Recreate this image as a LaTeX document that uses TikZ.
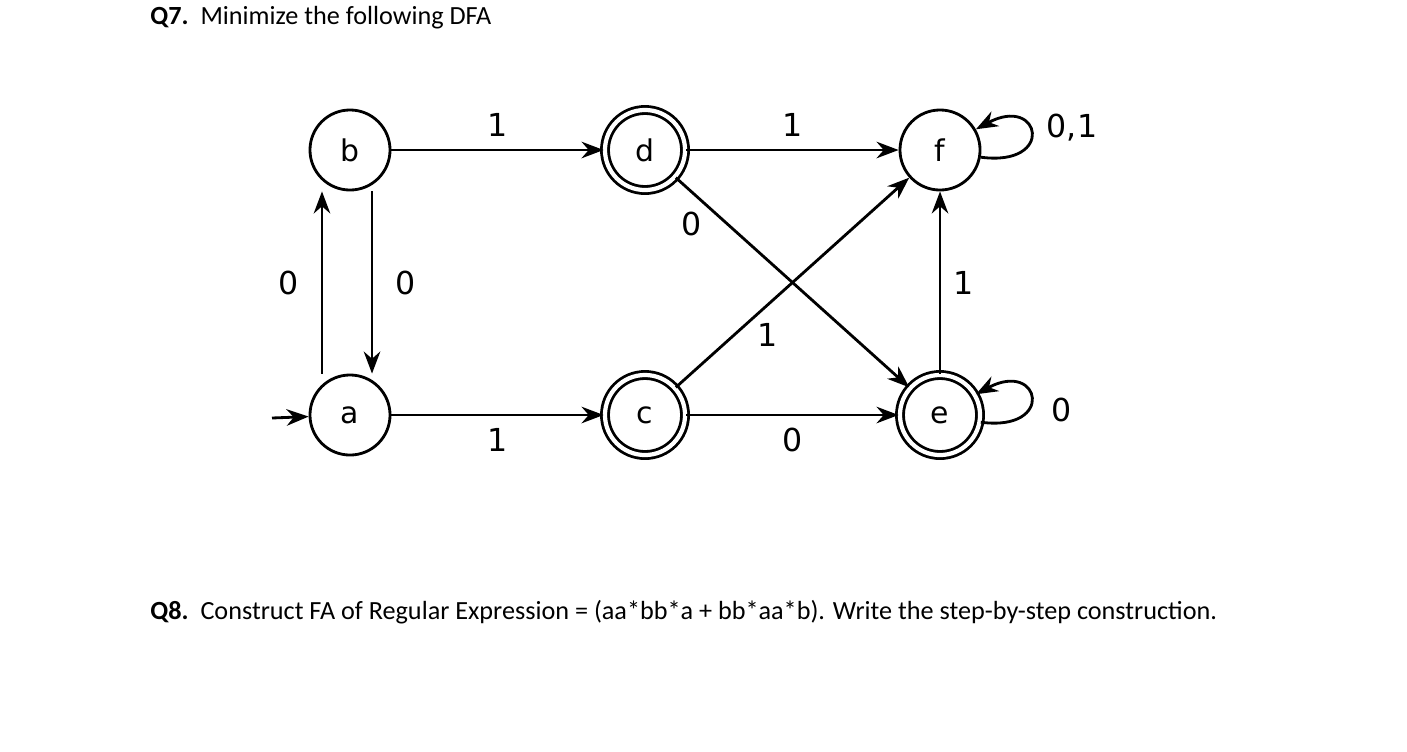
\documentclass[tikz,border=0pt]{standalone}
\usepackage{fontspec}
\setmainfont{DejaVu Sans}
\newfontfamily\qfont{Carlito}
\usetikzlibrary{arrows.meta}
\begin{document}
\begin{tikzpicture}[x=0.01cm,y=-0.01cm,
	state/.style={circle, draw, thick, minimum size=0.8cm, inner sep=0pt, font=\fontsize{8.5}{9}\selectfont},
	accept/.style={state, double, double distance=1.2pt},
	lbl/.style={font=\fontsize{9}{10}\selectfont},
	q/.style={anchor=west, font=\qfont\fontsize{7.45}{8.5}\selectfont},
	>={Stealth[length=2.2mm]}]
	\useasboundingbox (0,0) rectangle (1407,751);
	\node[q] (q7) at (138,18) {\textbf{Q7.}\ \ Minimize the following DFA};
	\node[q] (q8) at (138,612) {\textbf{Q8.}\ \ Construct FA of Regular Expression = (aa*bb*a + bb*aa*b). Write the step-by-step construction.};
	% states
	\node[state] (b) at (350,150) {b};
	\node[accept] (d) at (645,150) {d};
	\node[state] (f) at (940,150) {f};
	\node[state] (a) at (350,415) {a};
	\node[accept] (c) at (645,415) {c};
	\node[accept] (e) at (940,415) {e};
	\coordinate (start) at (272,418);
	% transitions
	\draw[->, thick] (start) -- (a);
	\draw[->, thick] ([xshift=-0.28cm]a.north) -- node[lbl, left=0.1cm] {0} ([xshift=-0.28cm]b.south);
	\draw[->, thick] ([xshift=0.22cm]b.south) -- node[lbl, right=0.1cm] {0} ([xshift=0.22cm]a.north);
	\draw[->, thick] (b) -- node[lbl, above] {1} (d);
	\draw[->, thick] (d) -- node[lbl, above] {1} (f);
	\draw[->, thick] (a) -- node[lbl, below] {1} (c);
	\draw[->, thick] (c) -- node[lbl, below] {0} (e);
	\draw[->, thick] (d) -- node[lbl, pos=0.22, left=0.12cm] {0} (e);
	\draw[->, thick] (c) -- node[lbl, pos=0.25, right=0.1cm] {1} (f);
	\draw[->, thick] (e) -- node[lbl, right] {1} (f);
	\draw[->, thick] (f.-10) .. controls +(0.75cm,-0.1cm) and +(0.65cm,0.35cm) .. (f.30);
	\draw[->, thick] (e.-10) .. controls +(0.75cm,-0.1cm) and +(0.65cm,0.35cm) .. (e.30);
	\node[lbl] (lf) at (1072,128) {0,1};
	\node[lbl] (le) at (1062,410) {0};
\end{tikzpicture}
\end{document}
